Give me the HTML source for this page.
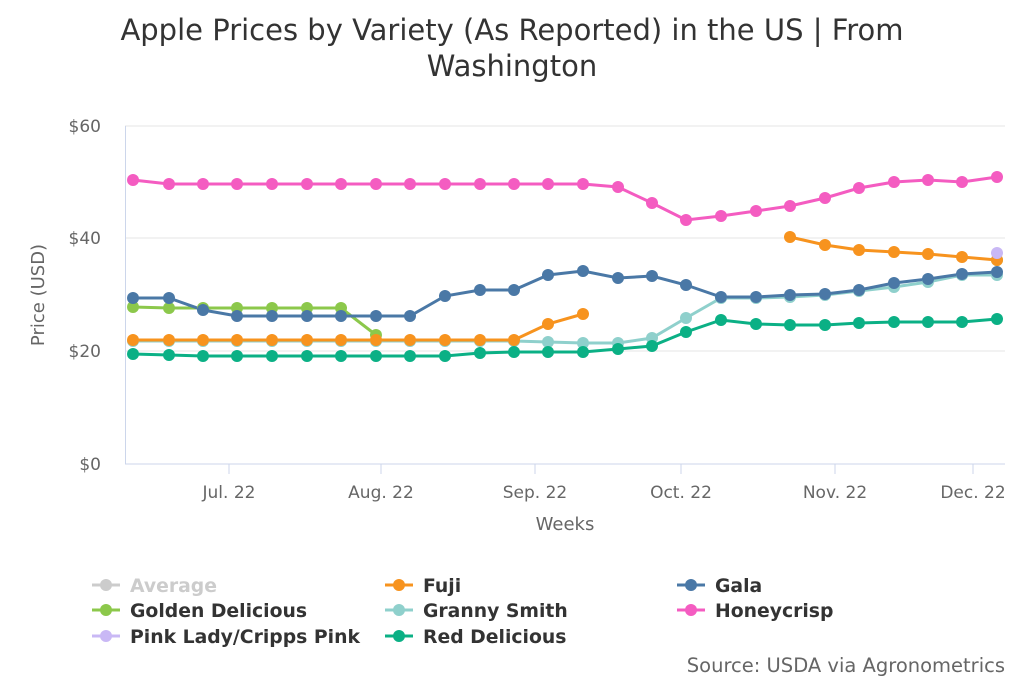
<!DOCTYPE html>
<html><head><meta charset="utf-8"><style>
body{margin:0;background:#fff;width:1024px;height:683px;overflow:hidden;font-family:"DejaVu Sans",sans-serif}
</style></head><body>
<svg width="1024" height="683" xmlns="http://www.w3.org/2000/svg" font-family="DejaVu Sans, Liberation Sans, sans-serif">
<text x="512" y="40" text-anchor="middle" font-size="29" fill="#333">Apple Prices by Variety (As Reported) in the US | From</text>
<text x="512" y="76" text-anchor="middle" font-size="29" fill="#333">Washington</text>
<g stroke="#e6e6e6" stroke-width="1">
<line x1="125" y1="126" x2="1005" y2="126"/><line x1="125" y1="238" x2="1005" y2="238"/><line x1="125" y1="351" x2="1005" y2="351"/>
</g>
<line x1="125.5" y1="126" x2="125.5" y2="464" stroke="#ccd6eb"/>
<line x1="125" y1="464" x2="1005" y2="464" stroke="#ccd6eb"/>
<g stroke="#ccd6eb"><line x1="229" y1="464" x2="229" y2="474"/><line x1="381" y1="464" x2="381" y2="474"/><line x1="535" y1="464" x2="535" y2="474"/><line x1="681" y1="464" x2="681" y2="474"/><line x1="835" y1="464" x2="835" y2="474"/><line x1="973" y1="464" x2="973" y2="474"/></g>
<g font-size="17" fill="#666" text-anchor="end">
<text x="101" y="132">$60</text><text x="101" y="244">$40</text><text x="101" y="357">$20</text><text x="101" y="470">$0</text></g>
<text transform="translate(44,295) rotate(-90)" text-anchor="middle" font-size="18" fill="#666">Price (USD)</text>
<g font-size="17" fill="#666" text-anchor="middle">
<text x="229" y="498">Jul. 22</text><text x="381" y="498">Aug. 22</text><text x="535" y="498">Sep. 22</text><text x="681" y="498">Oct. 22</text><text x="835" y="498">Nov. 22</text><text x="973" y="498">Dec. 22</text></g>
<text x="565" y="530" text-anchor="middle" font-size="18" fill="#666">Weeks</text>
<g fill="none" stroke-width="3" id="lines"></g>
<g id="dots"></g>
<g font-size="18.8" font-weight="bold">
<line x1="92" y1="585" x2="120" y2="585" stroke="#ccc" stroke-width="3"/><circle cx="106" cy="585" r="6" fill="#ccc"/><text x="130" y="592" fill="#ccc">Average</text>
<line x1="385" y1="585" x2="413" y2="585" stroke="#f7931e" stroke-width="3"/><circle cx="399" cy="585" r="6" fill="#f7931e"/><text x="423" y="592" fill="#333">Fuji</text>
<line x1="677" y1="585" x2="705" y2="585" stroke="#4a78a6" stroke-width="3"/><circle cx="691" cy="585" r="6" fill="#4a78a6"/><text x="715" y="592" fill="#333">Gala</text>
<line x1="92" y1="610" x2="120" y2="610" stroke="#8cc84b" stroke-width="3"/><circle cx="106" cy="610" r="6" fill="#8cc84b"/><text x="130" y="617" fill="#333">Golden Delicious</text>
<line x1="385" y1="610" x2="413" y2="610" stroke="#8fd0cc" stroke-width="3"/><circle cx="399" cy="610" r="6" fill="#8fd0cc"/><text x="423" y="617" fill="#333">Granny Smith</text>
<line x1="677" y1="610" x2="705" y2="610" stroke="#f45cc1" stroke-width="3"/><circle cx="691" cy="610" r="6" fill="#f45cc1"/><text x="715" y="617" fill="#333">Honeycrisp</text>
<line x1="92" y1="636" x2="120" y2="636" stroke="#c9b8f5" stroke-width="3"/><circle cx="106" cy="636" r="6" fill="#c9b8f5"/><text x="130" y="643" fill="#333">Pink Lady/Cripps Pink</text>
<line x1="385" y1="636" x2="413" y2="636" stroke="#0bb085" stroke-width="3"/><circle cx="399" cy="636" r="6" fill="#0bb085"/><text x="423" y="643" fill="#333">Red Delicious</text>
</g>
<text x="1005" y="672" text-anchor="end" font-size="19.5" fill="#666">Source: USDA via Agronometrics</text>
</svg>
<script>
const X=[133,169,203,237,272,307,341,376,410,445,480,514,548,583,618,652,686,721,756,790,825,859,894,928,962,997];
const S=[
["#8fd0cc",0,[341,341,341,341,341,341,341,341,341,341,341,341,342,343,343,338,318,298,298,297,295,291,287,282,275,275]],
["#8cc84b",0,[307,308,308,308,308,308,308,335]],
["#8cc84b",25,[260]],
["#f7931e",0,[340,340,340,340,340,340,340,340,340,340,340,340,324,314]],
["#f7931e",19,[237,245,250,252,254,257,260]],
["#4a78a6",0,[298,298,310,316,316,316,316,316,316,296,290,290,275,271,278,276,285,297,297,295,294,290,283,279,274,272]],
["#0bb085",0,[354,355,356,356,356,356,356,356,356,356,353,352,352,352,349,346,332,320,324,325,325,323,322,322,322,319]],
["#f45cc1",0,[180,184,184,184,184,184,184,184,184,184,184,184,184,184,187,203,220,216,211,206,198,188,182,180,182,177]],
["#c9b8f5",25,[253]]];
const ns="http://www.w3.org/2000/svg",L=document.getElementById("lines"),D=document.getElementById("dots");
S.forEach(([c,o,ys])=>{const pts=ys.map((y,i)=>X[o+i]+","+y).join(" ");
const p=document.createElementNS(ns,"polyline");p.setAttribute("points",pts);p.setAttribute("stroke",c);L.appendChild(p);
ys.forEach((y,i)=>{const e=document.createElementNS(ns,"circle");e.setAttribute("cx",X[o+i]);e.setAttribute("cy",y);e.setAttribute("r",6);e.setAttribute("fill",c);D.appendChild(e);});});
</script>
</body></html>
